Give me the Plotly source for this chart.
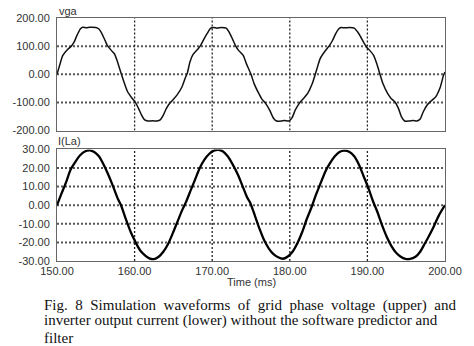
import plotly.graph_objects as go

# Grid phase voltage vga (V) vs time (ms)
t_v = [150.0, 150.34, 150.75, 151.36, 151.84, 152.2, 152.6, 153.0, 153.3, 153.8,
       154.2, 155.0, 155.4, 155.8, 156.2, 156.5, 157.0, 157.4, 157.8, 158.3,
       158.7, 159.1, 159.7, 160.1, 160.5, 160.9, 161.3, 161.7, 162.3, 162.9,
       163.3, 163.7, 164.1, 164.5, 164.9, 165.5, 166.1, 166.5, 166.8, 167.13,
       167.5, 168.1, 168.5, 168.95, 169.4, 169.8, 170.2, 170.6, 171.2, 171.8,
       172.2, 172.6, 173.0, 173.4, 174.0, 174.4, 175.0, 175.4, 176.0, 176.4,
       176.9, 177.4, 177.9, 178.3, 178.9, 179.3, 179.9, 180.3, 180.7, 181.2,
       181.7, 182.3, 182.9, 183.5, 183.9, 184.5, 185.1, 185.5, 185.9, 186.3,
       186.6, 187.1, 187.7, 188.3, 188.9, 189.5, 189.9, 190.3, 190.8, 191.2,
       191.6, 192.0, 192.6, 193.0, 193.6, 194.0, 194.4, 194.8, 195.4, 195.9,
       196.4, 196.8, 197.2, 197.7, 198.2, 198.8, 199.4, 199.8, 200.0]
vga = [0, 32, 67, 88, 100, 114, 140, 161, 167, 165,
       167, 166, 161, 144, 120, 102, 85, 73, 44, 0,
       -33, -62, -86, -100, -121, -145, -162, -166, -165, -166,
       -162, -145, -121, -104, -92, -72, -45, -15, 5, 44,
       69, 88, 102, 126, 147, 164, 166, 164, 166, 164,
       149, 126, 102, 85, 67, 38, 0, -33, -68, -88,
       -104, -127, -156, -166, -166, -164, -166, -154, -127, -104,
       -88, -68, -33, 20, 55, 81, 102, 120, 144, 161,
       166, 165, 166, 164, 144, 114, 96, 85, 67, 38,
       2, -33, -68, -84, -100, -121, -151, -166, -166, -164,
       -166, -159, -133, -109, -95, -80, -45, -4, 8]

# Inverter output current I(La) (A) vs time (ms)
t_i = [150.0, 150.55, 151.15, 151.76, 152.37, 152.98, 153.59, 154.2, 154.8, 155.4,
       156.0, 156.6, 157.2, 157.8, 158.25, 158.86, 159.5, 160.1, 160.7, 161.3,
       161.9, 162.5, 163.1, 163.7, 164.3, 164.9, 165.5, 166.2, 166.6, 167.2,
       167.8, 168.4, 169.0, 169.6, 170.2, 170.8, 171.4, 172.0, 172.6, 173.3,
       173.9, 174.5, 174.88, 175.5, 176.1, 176.7, 177.3, 177.9, 178.5, 179.1,
       179.7, 180.35, 180.96, 181.6, 182.2, 182.8, 183.4, 184.0, 184.6, 185.2,
       185.8, 186.4, 187.0, 187.7, 188.3, 188.9, 189.5, 190.1, 190.7, 191.3,
       191.9, 192.5, 193.1, 193.7, 194.3, 194.9, 195.5, 196.2, 196.8, 197.4,
       198.0, 198.6, 199.2, 200.0]
i_la = [0, 5.9, 12.1, 19.2, 23.3, 26.8, 28.9, 29.5, 28.6, 26.3,
        21.9, 16.5, 10.4, 3.8, 0, -7.3, -14.4, -19.7, -24.2, -26.8,
        -28.6, -29.0, -27.7, -25.0, -21.0, -15.3, -9.1, -2.0, 1.5, 7.7,
        13.9, 20.0, 24.5, 27.5, 29.3, 29.8, 28.9, 26.3, 22.2, 16.5,
        10.4, 4.2, 1.5, -5.6, -12.7, -18.9, -23.3, -26.3, -28.0, -28.8,
        -27.7, -25.0, -20.6, -14.4, -7.3, -1.1, 5.9, 12.1, 18.3, 22.7,
        26.3, 28.6, 29.3, 28.6, 26.3, 21.9, 15.7, 9.5, 2.4, -3.8,
        -10.9, -17.1, -22.0, -25.6, -27.7, -28.8, -28.9, -27.7, -25.0, -20.6,
        -16.0, -11.0, -5.6, 0.0]

x_ticks = [150, 160, 170, 180, 190, 200]
x_tick_text = ["150.00", "160.00", "170.00", "180.00", "190.00", "200.00"]
v_ticks = [200, 100, 0, -100, -200]
v_tick_text = ["200.00", "100.00", "0.00", "-100.00", "-200.00"]
i_ticks = [30, 20, 10, 0, -10, -20, -30]
i_tick_text = ["30.00", "20.00", "10.00", "0.00", "-10.00", "-20.00", "-30.00"]

caption = [
    "Fig. 8 Simulation waveforms of grid phase voltage (upper) and",
    "inverter output current (lower) without the software predictor and",
    "filter",
]

W, H = 474, 346
ML, MR, MT, MB = 46, 18, 15, 85
plot_h = H - MT - MB


def frac(py):
    # pixel row -> paper fraction
    return (H - MB - py) / plot_h


def spread(line, extra):
    # widen word gaps with non-breaking spaces so the line runs full width
    words = line.split(" ")
    out = words[0]
    for k, w in enumerate(words[1:]):
        n = extra[k] if k < len(extra) else 0
        out += " " + "\u00a0" * n + w
    return out


fig = go.Figure()

# dotted grid, drawn under the waveforms
h_grid = dict(color="#555", width=2, dash="2px,2px")
v_grid = dict(color="#222", width=1.3, dash="2px,2px")
for xr, yr, yt, lo, hi in (("x", "y", v_ticks, -200, 200), ("x2", "y2", i_ticks, -30, 30)):
    hx, hy, vx, vy = [], [], [], []
    for yv in yt[1:-1]:
        hx += [x_ticks[0], x_ticks[-1], None]
        hy += [yv, yv, None]
    for xv in x_ticks[1:-1]:
        vx += [xv, xv, None]
        vy += [lo, hi, None]
    fig.add_trace(go.Scatter(x=hx, y=hy, mode="lines", xaxis=xr, yaxis=yr,
                             line=h_grid, hoverinfo="skip", showlegend=False))
    fig.add_trace(go.Scatter(x=vx, y=vy, mode="lines", xaxis=xr, yaxis=yr,
                             line=v_grid, hoverinfo="skip", showlegend=False))

fig.add_trace(go.Scatter(x=t_v, y=vga, mode="lines", xaxis="x", yaxis="y",
                         line=dict(color="#111", width=1.5, shape="spline", smoothing=0.6),
                         showlegend=False))
fig.add_trace(go.Scatter(x=t_i, y=i_la, mode="lines", xaxis="x2", yaxis="y2",
                         line=dict(color="#000", width=2.3, shape="spline", smoothing=0.8),
                         showlegend=False))

tick_font = dict(family="Liberation Sans, Arial", size=11, color="#333")
axis_common = dict(showline=True, linecolor="#666", linewidth=1, mirror=True,
                   zeroline=False, ticks="", tickfont=tick_font, showgrid=False)

fig.update_layout(
    width=W, height=H, margin=dict(l=ML, r=MR, t=MT, b=MB),
    paper_bgcolor="white", plot_bgcolor="white",
    xaxis=dict(domain=[0, 1], range=[150, 200], anchor="y", tickvals=x_ticks,
               showticklabels=False, **axis_common),
    yaxis=dict(domain=[frac(129), 1], range=[-200, 200], anchor="x",
               tickvals=v_ticks, ticktext=v_tick_text, ticklabelstandoff=4, **axis_common),
    xaxis2=dict(domain=[0, 1], range=[150, 200], anchor="y2", tickvals=x_ticks,
                ticktext=x_tick_text, **axis_common),
    yaxis2=dict(domain=[0, frac(148)], range=[-30, 30], anchor="x2",
                tickvals=i_ticks, ticktext=i_tick_text, ticklabelstandoff=4, **axis_common),
)

label_font = dict(family="Liberation Sans, Arial", size=11, color="#333")
fig.add_annotation(text="vga", xref="paper", yref="paper", x=0.0, y=frac(8),
                   xanchor="left", yanchor="middle", showarrow=False, font=label_font)
fig.add_annotation(text="I(La)", xref="paper", yref="paper", x=-0.002, y=frac(140),
                   xanchor="left", yanchor="middle", showarrow=False, font=label_font)
fig.add_annotation(text="Time (ms)", xref="paper", yref="paper", x=0.5, y=frac(282),
                   xanchor="center", yanchor="middle", showarrow=False, font=label_font)

cap_font = dict(family="Liberation Serif, Times New Roman", size=15, color="#111")
cap_lines = [
    spread(caption[0], [1, 1, 1, 1, 1, 1, 1, 1, 1]),
    caption[1],
    caption[2],
]
cap_rows = [306, 321, 339]
for line, row in zip(cap_lines, cap_rows):
    fig.add_annotation(text=line, xref="paper", yref="paper",
                       x=(30 - ML) / (W - ML - MR), y=frac(row),
                       xanchor="left", yanchor="middle", showarrow=False, font=cap_font)

fig.write_html("out.html")
